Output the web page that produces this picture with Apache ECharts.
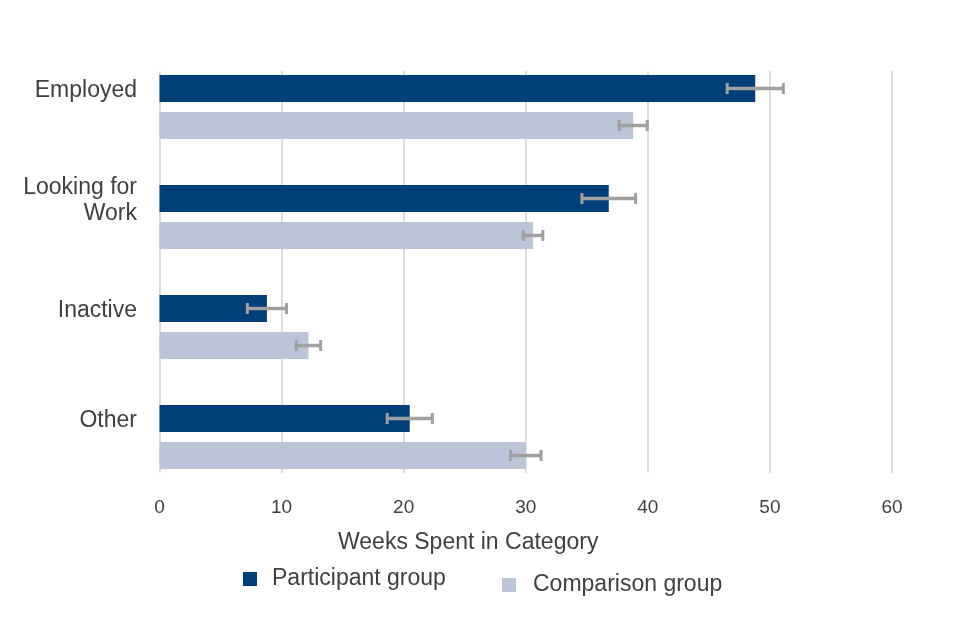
<!DOCTYPE html>
<html>
<head>
<meta charset="utf-8">
<script src="https://cdn.jsdelivr.net/npm/echarts@6/dist/echarts.min.js"></script>
<style>
html,body{margin:0;padding:0;background:#fff;}
#c{width:960px;height:640px;}
</style>
</head>
<body>
<div id="c"></div>
<script>
const categories = ['Employed', 'Looking for\nWork', 'Inactive', 'Other'];
const participant = [48.8, 36.8, 8.8, 20.5];
const participantErr = [2.3, 2.2, 1.6, 1.85];
const comparison = [38.8, 30.6, 12.2, 30.0];
const comparisonErr = [1.15, 0.8, 1.0, 1.25];
const xTicks = [0, 60, 10]; // min, max, interval

const chart = echarts.init(document.getElementById('c'));

function errData(vals, errs) {
  return vals.map((v, i) => [i, v - errs[i], v + errs[i]]);
}
function errRender(offset) {
  return function (params, api) {
    const cat = api.value(0);
    const a = api.coord([api.value(1), cat]);
    const b = api.coord([api.value(2), cat]);
    const y = a[1] + offset;
    const st = { stroke: '#a0a0a0', lineWidth: 3.5 };
    const cs = { stroke: '#a0a0a0', lineWidth: 3 };
    return {
      type: 'group',
      children: [
        { type: 'line', shape: { x1: a[0], y1: y, x2: b[0], y2: y }, style: st },
        { type: 'line', shape: { x1: a[0], y1: y - 5.5, x2: a[0], y2: y + 5.5 }, style: cs },
        { type: 'line', shape: { x1: b[0], y1: y - 5.5, x2: b[0], y2: y + 5.5 }, style: cs }
      ]
    };
  };
}

const textColor = '#404040';
const font = 'Liberation Sans';

chart.setOption({
  animation: false,
  grid: [
    { left: 159.5, right: 68, top: 52, height: 440 },
    { left: 159.5, right: 68, top: 71, height: 402 },
    { left: 159.5, right: 68, top: 36, height: 440 }
  ],
  xAxis: [
    { gridIndex: 0, type: 'value', min: xTicks[0], max: xTicks[1], interval: xTicks[2], show: false },
    {
      gridIndex: 1, type: 'value', min: xTicks[0], max: xTicks[1], interval: xTicks[2],
      axisLine: { show: false }, axisTick: { show: false },
      splitLine: { show: true, lineStyle: { color: '#d0d0d0', width: 1.5 } },
      axisLabel: { color: textColor, fontSize: 19, fontFamily: font, margin: 25 }
    },
    { gridIndex: 2, type: 'value', min: xTicks[0], max: xTicks[1], interval: xTicks[2], show: false }
  ],
  yAxis: [
    { gridIndex: 0, type: 'category', data: categories, inverse: true, show: false },
    { gridIndex: 1, type: 'category', data: categories, inverse: true, show: false },
    {
      gridIndex: 2, type: 'category', data: categories, inverse: true,
      axisLine: { show: false }, axisTick: { show: false }, splitLine: { show: false },
      axisLabel: {
        color: textColor, fontSize: 23, fontFamily: font, margin: 22.5,
        lineHeight: 26, align: 'right'
      }
    }
  ],
  title: {
    text: 'Weeks Spent in Category',
    left: 338, top: 531, padding: 0,
    textStyle: { color: textColor, fontSize: 23, fontWeight: 'normal', fontFamily: font }
  },
  legend: [
    {
      data: ['Participant group'], left: 243, top: 567.5, padding: 0,
      itemWidth: 14, itemHeight: 14, icon: 'rect',
      textStyle: { color: textColor, fontSize: 23, fontFamily: font, padding: [0, 0, 0, 10] }
    },
    {
      data: ['Comparison group'], left: 502, top: 573.5, padding: 0,
      itemWidth: 14, itemHeight: 14, icon: 'rect',
      textStyle: { color: textColor, fontSize: 23, fontFamily: font, padding: [0, 0, 0, 12] }
    }
  ],
  series: [
    {
      name: 'Participant group', type: 'bar', xAxisIndex: 0, yAxisIndex: 0,
      data: participant, barWidth: 27, barGap: '37%',
      itemStyle: { color: '#003f7a' }
    },
    {
      name: 'Comparison group', type: 'bar', xAxisIndex: 0, yAxisIndex: 0,
      data: comparison, barWidth: 27, barGap: '37%',
      itemStyle: { color: '#bcc5d8' }
    },
    {
      type: 'custom', xAxisIndex: 0, yAxisIndex: 0, renderItem: errRender(-18.5),
      data: errData(participant, participantErr), z: 5, silent: true
    },
    {
      type: 'custom', xAxisIndex: 0, yAxisIndex: 0, renderItem: errRender(18.5),
      data: errData(comparison, comparisonErr), z: 5, silent: true
    }
  ]
});
</script>
</body>
</html>
